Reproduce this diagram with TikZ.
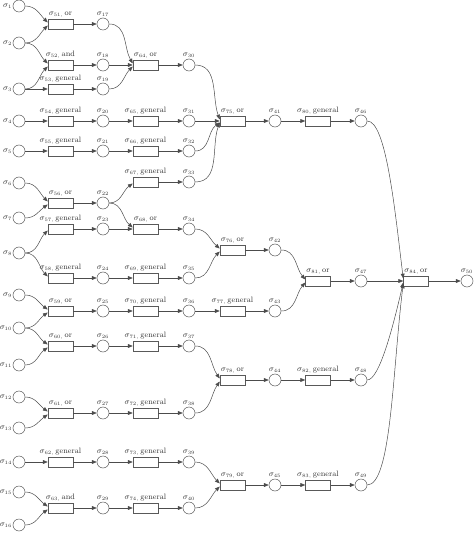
\documentclass[tikz,border=0pt]{standalone}
\usetikzlibrary{arrows.meta}
\tikzset{
 place/.style={circle,draw=black!65,line width=0.5pt,minimum size=12pt,inner sep=0pt},
 trans/.style={rectangle,draw=black!65,line width=0.5pt,minimum width=25pt,minimum height=10pt,inner sep=0pt},
 lab/.style={font=\fontsize{7.8}{8}\selectfont,text=black!80,inner sep=0.6pt},
 arc/.style={draw=black!70,line width=0.5pt,-{Triangle[length=4.8pt,width=3.8pt]}},
}
\newcommand\mkplace[4]{\node[place,label={[lab]#4:$\sigma_{#3}$}] (p#3) at (#1,-#2) {};}
\newcommand\mktrans[4]{\node[trans,label={[lab]above:{$\sigma_{#3,}$\,#4}}] (t#3) at (#1,-#2) {};}
\newcommand\up[4]{\draw[arc] (#1.east) to[out=0,in=#3] ([yshift=#4]#2.west);}
\newcommand\longup[4]{\draw[arc] (#1.east) to[out=0,in=#3,out looseness=0.3,in looseness=1.1] ([yshift=#4]#2.west);}
\begin{document}
\begin{tikzpicture}[x=1pt,y=1pt]
\useasboundingbox (0,0) rectangle (474,-540);
% input places
\foreach \n/\y in {1/6,2/43,3/89,4/121,5/151,6/183,7/218,8/253,9/295,10/328,11/365,12/397,13/428,14/462,15/492,16/525}
  {\mkplace{19}{\y}{\n}{left}}
% column 1 transitions
\mktrans{60.5}{24}{51}{or}
\mktrans{60.5}{65}{52}{and}
\mktrans{60.5}{89}{53}{general}
\mktrans{60.5}{121}{54}{general}
\mktrans{60.5}{151}{55}{general}
\mktrans{60.5}{203}{56}{or}
\mktrans{60.5}{229}{57}{general}
\mktrans{60.5}{278}{58}{general}
\mktrans{60.5}{311}{59}{or}
\mktrans{60.5}{346}{60}{or}
\mktrans{60.5}{413}{61}{or}
\mktrans{60.5}{462}{62}{general}
\mktrans{60.5}{508}{63}{and}
% column 2 places
\foreach \n/\y in {17/24,18/65,19/89,20/121,21/151,22/203,23/229,24/278,25/311,26/346,27/413,28/462,29/508}
  {\mkplace{103}{\y}{\n}{above}}
% column 3 transitions
\mktrans{145.5}{65}{64}{or}
\mktrans{145.5}{121}{65}{general}
\mktrans{145.5}{151}{66}{general}
\mktrans{145.5}{182}{67}{general}
\mktrans{145.5}{229}{68}{or}
\mktrans{145.5}{278}{69}{general}
\mktrans{145.5}{311}{70}{general}
\mktrans{145.5}{346}{71}{general}
\mktrans{145.5}{413}{72}{general}
\mktrans{145.5}{462}{73}{general}
\mktrans{145.5}{508}{74}{general}
% column 4 places
\foreach \n/\y in {30/65,31/121,32/151,33/182,34/229,35/278,36/311,37/346,38/413,39/462,40/508}
  {\mkplace{189}{\y}{\n}{above}}
% column 5 transitions
\mktrans{232.5}{121}{75}{or}
\mktrans{232.5}{250}{76}{or}
\mktrans{232.5}{311}{77}{general}
\mktrans{232.5}{380}{78}{or}
\mktrans{232.5}{485}{79}{or}
% column 6 places
\foreach \n/\y in {41/121,42/250,43/311,44/380,45/485}
  {\mkplace{275}{\y}{\n}{above}}
% column 7 transitions
\mktrans{318}{121}{80}{general}
\mktrans{318}{281}{81}{or}
\mktrans{318}{380}{82}{general}
\mktrans{318}{485}{83}{general}
% column 8 places
\foreach \n/\y in {46/121,47/281,48/380,49/485}
  {\mkplace{361}{\y}{\n}{above}}
\mktrans{416}{281}{84}{or}
\mkplace{467}{281}{50}{above}
% straight arcs
\foreach \a/\b in {t51/p17,t52/p18,t53/p19,p18/t64,t64/p30,p3/t53,
  p4/t54,t54/p20,p20/t65,t65/p31,p31/t75,t75/p41,p41/t80,t80/p46,
  p5/t55,t55/p21,p21/t66,t66/p32,
  t56/p22,t67/p33,p23/t68,t57/p23,t68/p34,t58/p24,p24/t69,t69/p35,
  t76/p42,t59/p25,p25/t70,t70/p36,p36/t77,t77/p43,t81/p47,p47/t84,t84/p50,
  t60/p26,p26/t71,t71/p37,t78/p44,p44/t82,t82/p48,
  t61/p27,p27/t72,t72/p38,
  p14/t62,t62/p28,p28/t73,t73/p39,
  t79/p45,p45/t83,t83/p49,
  t63/p29,p29/t74,t74/p40}
  {\draw[arc] (\a) -- (\b);}
% curved arcs
\up{p1}{t51}{135}{1.5pt}
\up{p2}{t51}{225}{-1.5pt}
\up{p2}{t52}{135}{1.5pt}
\up{p3}{t52}{225}{-1.5pt}
\up{p17}{t64}{120}{1.5pt}
\up{p19}{t64}{225}{-1.5pt}
\up{p30}{t75}{110}{1.5pt}
\up{p32}{t75}{215}{-1.5pt}
\up{p33}{t75}{250}{-1.5pt}
\up{p6}{t56}{135}{1.5pt}
\up{p7}{t56}{215}{-1.5pt}
\up{p22}{t67}{215}{-1.5pt}
\up{p22}{t68}{140}{1.5pt}
\up{p8}{t57}{225}{-1.5pt}
\up{p8}{t58}{135}{1.5pt}
\up{p34}{t76}{140}{1.5pt}
\up{p35}{t76}{225}{-1.5pt}
\up{p42}{t81}{130}{1.5pt}
\up{p43}{t81}{230}{-1.5pt}
\up{p9}{t59}{145}{1.5pt}
\up{p10}{t59}{215}{-1.5pt}
\up{p10}{t60}{145}{1.5pt}
\up{p11}{t60}{215}{-1.5pt}
\up{p37}{t78}{125}{1.5pt}
\up{p38}{t78}{235}{-1.5pt}
\up{p12}{t61}{145}{1.5pt}
\up{p13}{t61}{215}{-1.5pt}
\up{p39}{t79}{135}{1.5pt}
\up{p40}{t79}{225}{-1.5pt}
\up{p15}{t63}{145}{1.5pt}
\up{p16}{t63}{215}{-1.5pt}
\longup{p46}{t84}{97}{2.5pt}
\longup{p48}{t84}{257}{-1.5pt}
\longup{p49}{t84}{263}{-2.5pt}
\end{tikzpicture}
\end{document}
